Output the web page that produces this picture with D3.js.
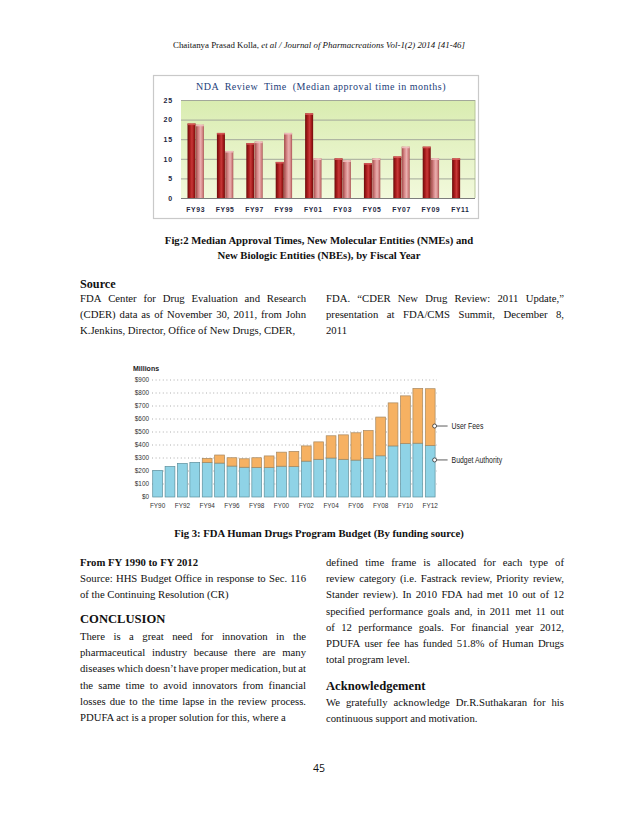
<!DOCTYPE html>
<html><head><meta charset="utf-8">
<script src="https://cdn.jsdelivr.net/npm/d3@7"></script>
<style>body{margin:0;background:#fff}svg{display:block}</style>
</head><body><svg id="page" width="638" height="826"></svg>
<script>
// ---------- Chart 1 data (NDA review time, months) ----------
const reviewCats = ["FY93","FY95","FY97","FY99","FY01","FY03","FY05","FY07","FY09","FY11"];
const reviewSeriesA = [19.0,16.6,14.0,9.2,21.6,10.1,8.9,10.6,13.1,10.1];
const reviewSeriesB = [18.7,12.0,14.4,16.6,10.1,9.6,10.1,13.1,10.1,null];
const reviewTicks = [0,5,10,15,20,25];
const reviewTitle = "NDA  Review  Time  (Median approval time in months)";

// ---------- Chart 2 data (FDA Human Drugs Program Budget, $ millions) ----------
const budgetYears = ["FY90","FY91","FY92","FY93","FY94","FY95","FY96","FY97","FY98","FY99","FY00","FY01","FY02","FY03","FY04","FY05","FY06","FY07","FY08","FY09","FY10","FY11","FY12"];
const budgetAuthority = [205,235,258,266,266,261,238,229,228,226,237,235,276,290,300,290,284,297,317,393,411,414,396];
const userFees =        [0,0,0,0,31,62,64,65,74,90,108,116,117,134,171,188,210,214,298,331,367,421,437];
const budgetTicks = [0,100,200,300,400,500,600,700,800,900];
const budgetXLabels = ["FY90","FY92","FY94","FY96","FY98","FY00","FY02","FY04","FY06","FY08","FY10","FY12"];
const budgetSeries = ["User Fees","Budget Authority"];

// ---------- Page text ----------
const headerA = "Chaitanya Prasad Kolla, ";
const headerB = "et al / Journal of Pharmacreations Vol-1(2) 2014 [41-46]";
const fig2Caption = ["Fig:2 Median Approval Times, New Molecular Entities (NMEs) and","New Biologic Entities (NBEs), by Fiscal Year"];
const sourceLeft = ["FDA Center for Drug Evaluation and Research","(CDER) data as of November 30, 2011, from John","K.Jenkins, Director, Office of New Drugs, CDER,"];
const sourceRight = ["FDA. \u201CCDER New Drug Review: 2011 Update,\u201D","presentation at    FDA/CMS Summit, December 8,","2011"];
const fig3Caption = "Fig 3: FDA Human Drugs Program Budget (By funding source)";
const fromLines = ["Source: HHS Budget Office in response to Sec. 116","of the Continuing Resolution (CR)"];
const conclusionLines = ["There is a great need for innovation in the","pharmaceutical industry because there are many","diseases which doesn\u2019t have proper medication, but at","the same time to avoid innovators from financial","losses due to the time lapse in the review process.","PDUFA act is a proper solution for this, where a"];
const rightLines = ["defined time frame is allocated for each type of","review category (i.e. Fastrack review, Priority review,","Stander review). In 2010 FDA had met 10 out of 12","specified performance  goals and, in 2011 met 11 out","of 12 performance goals. For financial year 2012,","PDUFA user fee has funded 51.8% of Human Drugs","total program level."];
const ackLines = ["We gratefully acknowledge Dr.R.Suthakaran for his","continuous support and motivation."];

const svg = d3.select("#page");
const SERIF = "'Liberation Serif','Times New Roman',serif";
const SANS = "'Liberation Sans',Arial,sans-serif";
const BODY = 10.7;
const CONDENSE = "scale(0.82,1)";

function txt(str, x, y, o = {}) {
  return svg.append("text").attr("x", x).attr("y", y)
    .attr("font-family", o.family || SERIF).attr("font-size", o.size || BODY)
    .attr("font-weight", o.weight || "normal").attr("font-style", o.style || "normal")
    .attr("text-anchor", o.anchor || "start").attr("fill", o.fill || "#111")
    .text(str);
}
function para(lines, x0, width, y0, lh, o = {}) {
  lines.forEach((line, i) => {
    const y = y0 + i * lh;
    const justify = i < lines.length - 1 || o.justifyLast;
    if (!justify) { txt(line, x0, y, o); return; }
    const words = line.split(/\s+/);
    const nodes = words.map(w => txt(w, 0, y, o));
    const widths = nodes.map(n => n.node().getComputedTextLength());
    const gap = (width - d3.sum(widths)) / (words.length - 1);
    let x = x0;
    nodes.forEach((n, k) => { n.attr("x", x); x += widths[k] + gap; });
  });
}

// ---------- Header ----------
const h = svg.append("text").attr("x", 319).attr("y", 48).attr("text-anchor", "middle")
  .attr("font-family", SERIF).attr("font-size", 8.9).attr("fill", "#111");
h.append("tspan").text(headerA);
h.append("tspan").attr("font-style", "italic").text(headerB);

// ---------- Chart 1 ----------
const defs = svg.append("defs");
const gA = defs.append("linearGradient").attr("id", "gA");
[[0,"#6a0b0b"],[0.3,"#a81c1c"],[0.55,"#c83838"],[0.8,"#a01818"],[1,"#6e0d0d"]].forEach(s => gA.append("stop").attr("offset", s[0]).attr("stop-color", s[1]));
const gB = defs.append("linearGradient").attr("id", "gB");
[[0,"#a24848"],[0.35,"#d88a8a"],[0.6,"#eab0b0"],[0.85,"#d08080"],[1,"#a65050"]].forEach(s => gB.append("stop").attr("offset", s[0]).attr("stop-color", s[1]));
const gBg = defs.append("linearGradient").attr("id", "gBg").attr("x1", 0).attr("x2", 0).attr("y1", 0).attr("y2", 1);
[[0,"#d9ecb0"],[1,"#f2f9dc"]].forEach(s => gBg.append("stop").attr("offset", s[0]).attr("stop-color", s[1]));

svg.append("rect").attr("x", 153.5).attr("y", 75.5).attr("width", 325).attr("height", 143)
  .attr("fill", "#fff").attr("stroke", "#c9c9c9").attr("stroke-width", 1.2);

const x1 = d3.scaleBand().domain(reviewCats).range([181, 475]).paddingInner(0.42).paddingOuter(0.21);
const xs1 = d3.scaleBand().domain(["A","B"]).range([0, x1.bandwidth()]).padding(0.04);
const y1 = d3.scaleLinear().domain([0, 25]).range([198, 100]);

svg.append("rect").attr("x", 181).attr("y", y1(25)).attr("width", 294).attr("height", y1(0) - y1(25))
  .attr("fill", "url(#gBg)");
svg.append("line").attr("x1", 475).attr("x2", 475).attr("y1", y1(25)).attr("y2", y1(0)).attr("stroke", "#b9c79a").attr("stroke-width", 1);

const ax1 = svg.append("g").attr("transform", "translate(181,0)")
  .call(d3.axisLeft(y1).tickValues(reviewTicks).tickSize(-294).tickPadding(8));
ax1.select(".domain").remove();
ax1.selectAll(".tick line").attr("stroke", d => d === 0 ? "#7d7d7d" : "#a3a89a").attr("stroke-width", 1);
ax1.selectAll(".tick text").attr("font-family", SANS).attr("font-size", 7)
  .attr("letter-spacing", 0.8).attr("fill", "#1d2640").attr("font-weight", "bold");

const bx1 = svg.append("g").attr("transform", `translate(0,${y1(0)})`)
  .call(d3.axisBottom(x1).tickSize(0).tickPadding(9));
bx1.select(".domain").remove();
bx1.selectAll(".tick text").attr("font-family", SANS).attr("font-size", 6.8)
  .attr("letter-spacing", 0.6).attr("fill", "#1d2640").attr("font-weight", "bold");

const grp = svg.append("g");
reviewCats.forEach((c, i) => {
  [["A", reviewSeriesA[i], "url(#gA)", "#d65a5a"], ["B", reviewSeriesB[i], "url(#gB)", "#f0c0c0"]].forEach(([k, v, f, cap]) => {
    if (v == null) return;
    const bx = x1(c) + xs1(k), bw = xs1.bandwidth();
    grp.append("rect").attr("x", bx).attr("y", y1(v)).attr("width", bw).attr("height", y1(0) - y1(v)).attr("fill", f);
    grp.append("rect").attr("x", bx).attr("y", y1(v)).attr("width", bw).attr("height", 1.6).attr("fill", cap).attr("opacity", 0.9);
  });
});

svg.append("text").attr("x", 321).attr("y", 90).attr("text-anchor", "middle")
  .attr("font-family", SERIF).attr("font-size", 10).attr("letter-spacing", 0.5)
  .attr("fill", "#23407a").style("white-space", "pre").text(reviewTitle);

// ---------- Fig 2 caption & source ----------
txt(fig2Caption[0], 319, 244, { weight: "bold", anchor: "middle" });
txt(fig2Caption[1], 319, 259, { weight: "bold", anchor: "middle" });
txt("Source", 80, 288, { weight: "bold", size: 12.2 });
para(sourceLeft, 80, 226, 302, 16);
para(sourceRight, 326, 238, 302, 16);

// ---------- Chart 2 ----------
const x2 = d3.scaleBand().domain(budgetYears).range([151.4, 436.4]).paddingInner(0.21).paddingOuter(0.105);
const y2 = d3.scaleLinear().domain([0, 900]).range([497, 380]);

txt("Millions", 133, 371, { family: SANS, size: 7, weight: "bold", fill: "#222" });

const ax2 = svg.append("g").attr("transform", "translate(149,0)")
  .call(d3.axisLeft(y2).tickValues(budgetTicks).tickSize(0).tickPadding(0).tickFormat(d => "$" + d));
ax2.select(".domain").remove();
ax2.selectAll(".tick text").attr("font-family", SANS).attr("font-size", 7.8).attr("fill", "#333")
  .attr("dy", "0.2em").attr("transform", CONDENSE);
budgetTicks.filter(t => t > 0).forEach(t => {
  svg.append("line").attr("x1", 152).attr("x2", 437).attr("y1", y2(t)).attr("y2", y2(t))
    .attr("stroke", "#9a9a9a").attr("stroke-width", 0.8).attr("stroke-dasharray", "1,2.6");
});

const bars2 = svg.append("g");
budgetYears.forEach((yr, i) => {
  const ba = budgetAuthority[i], uf = userFees[i];
  bars2.append("rect").attr("x", x2(yr)).attr("width", x2.bandwidth())
    .attr("y", y2(ba)).attr("height", y2(0) - y2(ba))
    .attr("fill", "#8fd3e6").attr("stroke", "#5d8f9c").attr("stroke-width", 0.7);
  if (uf > 0) bars2.append("rect").attr("x", x2(yr)).attr("width", x2.bandwidth())
    .attr("y", y2(ba + uf)).attr("height", y2(ba) - y2(ba + uf))
    .attr("fill", "#f6b162").attr("stroke", "#a6875e").attr("stroke-width", 0.7);
});

const bx2 = svg.append("g").attr("transform", `translate(0,${y2(0)})`)
  .call(d3.axisBottom(x2).tickValues(budgetXLabels).tickSize(0).tickPadding(5));
bx2.select(".domain").remove();
bx2.selectAll(".tick text").attr("font-family", SANS).attr("font-size", 7.8).attr("fill", "#333")
  .attr("transform", CONDENSE);

// legend (callouts)
const lastYr = budgetYears[budgetYears.length - 1];
const legendAt = [546, 285]; // value levels where the callouts sit
budgetSeries.forEach((s, k) => {
  const cx = x2(lastYr) + x2.bandwidth() - 0.5, cy = y2(legendAt[k]);
  svg.append("line").attr("x1", cx).attr("x2", cx + 13).attr("y1", cy).attr("y2", cy).attr("stroke", "#333").attr("stroke-width", 0.8);
  svg.append("circle").attr("cx", cx).attr("cy", cy).attr("r", 2).attr("fill", "#fff").attr("stroke", "#333").attr("stroke-width", 0.8);
  svg.append("g").attr("transform", `translate(${cx + 17},${cy + 2.8})`)
    .append("text").attr("font-family", SANS).attr("font-size", 8.4).attr("fill", "#222")
    .attr("transform", CONDENSE).text(s);
});

// ---------- Fig 3 caption & text ----------
txt(fig3Caption, 319, 537, { weight: "bold", anchor: "middle" });
txt("From FY 1990 to FY 2012", 80, 566, { weight: "bold" });
para(fromLines, 80, 226, 582, 16);
txt("CONCLUSION", 80, 623, { weight: "bold", size: 12.6 });
para(conclusionLines, 80, 226, 640, 16.2);
para(rightLines, 326, 238, 566, 16.2);
txt("Acknowledgement", 326, 690, { weight: "bold", size: 12.6 });
para(ackLines, 326, 238, 706, 16);

txt("45", 319, 772, { family: "'Open Sans',Calibri,sans-serif", size: 10.5, anchor: "middle" });
</script></body></html>
